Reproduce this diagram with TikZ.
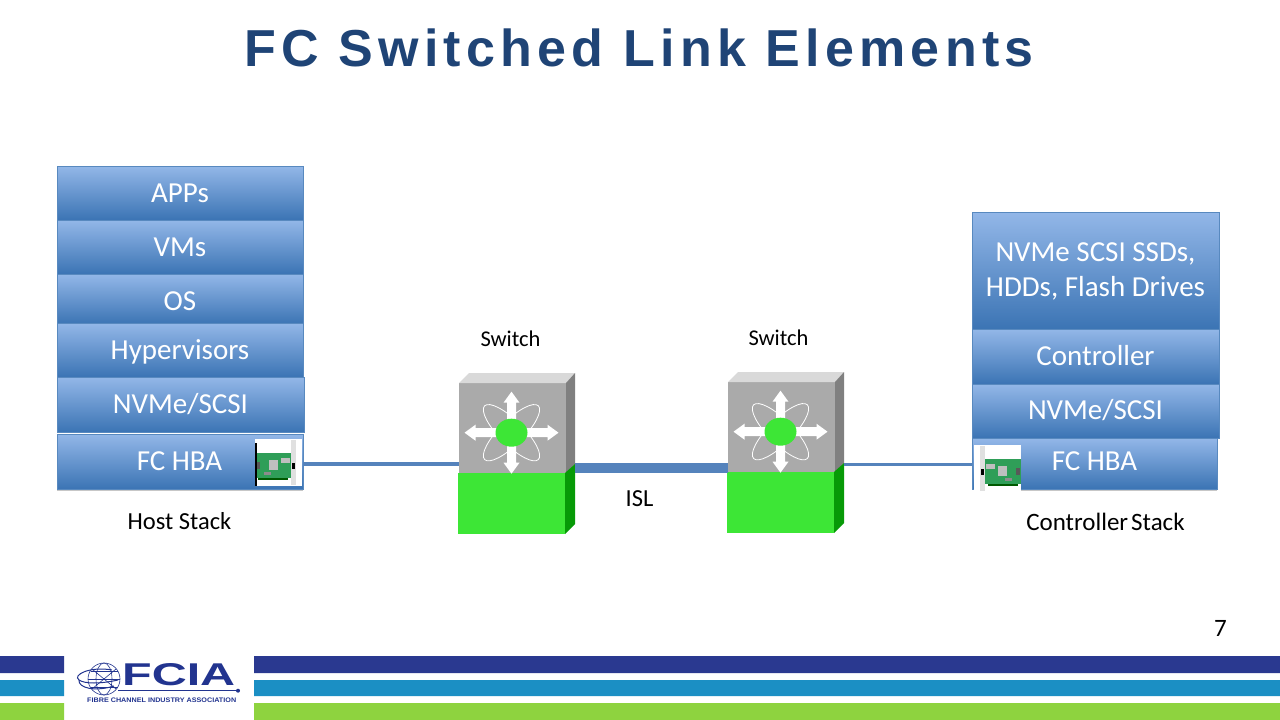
\documentclass[tikz,border=0pt]{standalone}
\usepackage{fontspec}
\setmainfont{Carlito}
\newfontfamily\titlefont[LetterSpace=10.1]{Liberation Sans}
\newfontfamily\logofont{Liberation Sans}
\usetikzlibrary{calc}
\definecolor{titleblue}{HTML}{1F4476}
\definecolor{navyband}{HTML}{2A3990}
\definecolor{blueband}{HTML}{1B8FC4}
\definecolor{greenband}{HTML}{8ED33F}
\definecolor{layertop}{HTML}{93B7E8}
\definecolor{layermid}{HTML}{6E9DD8}
\definecolor{layerbot}{HTML}{3B74B4}
\definecolor{linkblue}{HTML}{5583BC}
\definecolor{swgreen}{HTML}{3DE636}
\definecolor{swdark}{HTML}{079A07}
\definecolor{swgray}{HTML}{AAAAAA}
\definecolor{swtop}{HTML}{D9D9D9}
\definecolor{swside}{HTML}{808080}
\definecolor{logoblue}{HTML}{22348F}
\definecolor{cardgreen}{HTML}{2F9E58}
\tikzset{
  layerbase/.style={draw=layerbot!85!white,line width=.7pt,top color=layertop,middle color=layermid,bottom color=layerbot,
    text=white,font=\fontsize{29}{35}\selectfont,align=center,inner sep=0pt},
  layer/.style={layerbase,text height=18pt,text depth=0pt},
  caption/.style={text=black,font=\fontsize{24.5}{29}\selectfont,inner sep=0pt},
  swcaption/.style={caption,font=\fontsize{22.5}{27}\selectfont},
  thinlink/.style={draw=linkblue,line width=3.2pt},
  isl/.style={draw=linkblue,line width=10pt},
  softshadow/.style={fill=black!22},
}
\newcommand{\netswitch}[3]{%
  \begin{scope}[shift={(#2,#3)}]
    \node[minimum width=116pt,minimum height=161pt,inner sep=0pt] (#1) at (58,70.5) {};
    \fill[swgray] (0,0) rectangle (107,90);
    \fill[swtop] (0,0) -- (10,-10) -- (116,-10) -- (107,0) -- cycle;
    \fill[swside] (107,0) -- (116,-10) -- (116,81) -- (107,90) -- cycle;
    \fill[swgreen] (-1,90) rectangle (106,151);
    \fill[swdark] (106,90) -- (116,81) -- (116,141) -- (106,151) -- cycle;
    \begin{scope}[shift={(52.5,49.7)}]
      \draw[white,line width=.8pt,rotate=45] (0,0) ellipse (38pt and 12pt);
      \draw[white,line width=.8pt,rotate=-45] (0,0) ellipse (38pt and 12pt);
      \foreach \a/\l in {0/47,90/41,180/47,270/41}
        \fill[white,rotate=\a] (0,-4.5) -- ({\l-11},-4.5) -- ({\l-11},-8) -- (\l,0) -- ({\l-11},8) -- ({\l-11},4.5) -- (0,4.5) -- cycle;
      \fill[swgreen] (0,0) ellipse (16pt and 14pt);
    \end{scope}
  \end{scope}}
\newcommand{\hbacard}[1]{%
  \begin{scope}[#1]
    \fill[white] (0,0) rectangle (47,47);
    \fill[cardgreen] (0.5,14) rectangle (36,39);
    \fill[black!65] (1,23) rectangle (5,30);
    \fill[black!25] (14,21) rectangle (23,31);
    \fill[black!25] (26,19) rectangle (35,24);
    \fill[black!45] (9,33) rectangle (16,36);
    \fill[green!35!black] (3,39) rectangle (33,41);
    \fill[black!12] (36,1) rectangle (41,46);
    \fill[black] (37,24) rectangle (40,30);
  \end{scope}}
\begin{document}
\begin{tikzpicture}[x=1pt,y=-1pt]
\useasboundingbox (0,0) rectangle (1280,720);
\fill[white] (0,0) rectangle (1280,720);

% title
\node[text=titleblue,font={\titlefont\bfseries\fontsize{52}{60}\selectfont},inner sep=0pt] (title) at (639,48) {FC Switched Link Elements};

% shadows under the two stacks
\fill[softshadow] (57,489) rectangle (303,491);
\fill[softshadow] (1021,489) rectangle (1217,491);

% host stack
\node[layer,minimum width=246pt,minimum height=54pt] (apps) at (180,193) {APPs};
\node[layer,minimum width=246pt,minimum height=54pt] (vms) at (180,247) {VMs};
\node[layer,minimum width=246pt,minimum height=50pt] (os) at (180,299) {\raisebox{-2pt}{OS}};
\node[layer,minimum width=246pt,minimum height=54pt] (hyp) at (180,350) {Hypervisors};
\node[layer,minimum width=247pt,minimum height=55pt] (nvme1) at (180.5,404.5) {NVMe/SCSI};
\node[layer,minimum width=246pt,minimum height=55pt] (hba1) at (180,461.5) {\hspace*{-1pt}FC HBA};
\hbacard{shift={(255,439)}}
\fill[black] (255,443) rectangle (256.5,486);
\node[caption] (hostcap) at (179.5,521) {Host Stack};

% controller stack
\node[layerbase,minimum width=247pt,minimum height=117pt] (ssd) at (1095.5,270.5) {\rule{0pt}{21pt}NVMe SCSI SSDs,\\HDDs, Flash Drives};
\node[layer,minimum width=247pt,minimum height=55pt] (ctrl) at (1095.5,356.5) {Controller};
\node[layer,minimum width=247pt,minimum height=54pt] (nvme2) at (1095.5,411) {\raisebox{1pt}{NVMe/SCSI}};
\node[layer,minimum width=245pt,minimum height=51pt] (hba2) at (1094.5,463.5) {\raisebox{2pt}{FC HBA}};
\hbacard{shift={(1021,445)},xscale=-1}
\node[caption,font=\fontsize{25}{30}\selectfont] (ctrlcap) at (1105.5,522) {Controller\hspace{3pt}Stack};

% switches
\netswitch{sw1}{459}{383}
\netswitch{sw2}{728}{382}
\node[swcaption] (swlab1) at (510.5,339) {Switch};
\node[swcaption] (swlab2) at (778.5,338) {Switch};
\node[caption] (isllab) at (639.5,499) {ISL};

% links
\draw[thinlink] ([yshift=-2.5pt]hba1.east) -- ([yshift=-10.5pt]sw1.west);
\draw[isl] ([yshift=-14pt]sw1.east) -- ([yshift=-15pt]sw2.west);
\draw[thinlink] ([yshift=-12pt]sw2.east) -- ([yshift=-1pt]hba2.west);

% page number
\node[caption,font=\fontsize{25}{30}\selectfont] (page) at (1220.5,628) {7};

% footer bands
\fill[navyband] (0,656) rectangle (64,673) (254,656) rectangle (1280,673);
\fill[blueband] (0,680) rectangle (64,696) (254,680) rectangle (1280,696);
\fill[greenband] (0,703) rectangle (64,720) (254,703) rectangle (1280,720);

% logo
\node[text=logoblue,anchor=west,inner sep=0pt] (fcia) at (122,674.5)
  {\resizebox{113pt}{22pt}{\logofont\bfseries FCIA}};
\node[text=logoblue,anchor=west,inner sep=0pt] (fciatag) at (87,700.5)
  {\resizebox{149pt}{4.6pt}{\logofont\bfseries FIBRE CHANNEL INDUSTRY ASSOCIATION}};
\begin{scope}[logoblue,line width=.6pt]
  \draw (104,679) circle (16pt);
  \draw (104,679) ellipse (8pt and 16pt);
  \draw (88,679) -- (120,679);
  \draw (90.5,671) -- (117.5,671) (90.5,687) -- (117.5,687);
  \draw (92,669) -- (116,689) (92,689) -- (116,669);
  \draw[line width=1pt] (112,670) .. controls (90,666) and (72,675) .. (79,680) .. controls (85,684) and (100,684) .. (118,680);
  \draw[line width=1pt] (114,686) .. controls (95,692) and (78,688) .. (79,680);
  \draw[line width=1pt] (118,690.7) -- (238,690.7);
  \fill (238,690.7) circle (2pt);
\end{scope}
\end{tikzpicture}
\end{document}
